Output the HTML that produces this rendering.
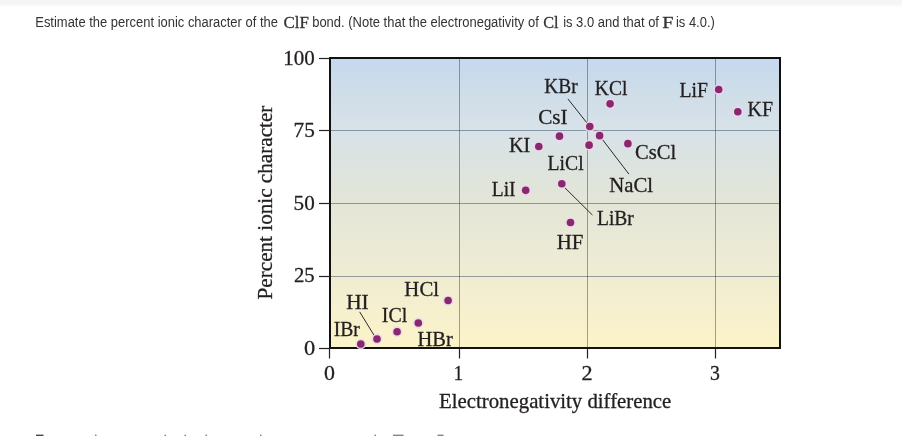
<!DOCTYPE html>
<html><head><meta charset="utf-8"><style>
html,body{margin:0;padding:0;background:#fff;width:902px;height:436px;overflow:hidden}
svg{position:absolute;left:0;top:0;will-change:transform}
</style></head><body>
<svg width="902" height="436" viewBox="0 0 902 436">
<defs><filter id="bl" x="-50%" y="-50%" width="200%" height="200%"><feGaussianBlur stdDeviation="0.5"/></filter><linearGradient id="g" x1="0" y1="0" x2="0" y2="1"><stop offset="0" stop-color="#c5d8ee"/><stop offset="0.14" stop-color="#d0dee8"/><stop offset="0.25" stop-color="#d8e2e8"/><stop offset="0.33" stop-color="#dbe3e2"/><stop offset="0.5" stop-color="#e3e5d6"/><stop offset="0.62" stop-color="#e9e9d6"/><stop offset="0.84" stop-color="#f4efcf"/><stop offset="1" stop-color="#fcf3c8"/></linearGradient></defs>
<rect x="0" y="0" width="902" height="4" fill="#f5f5f5"/><rect x="0" y="4" width="902" height="1" fill="#f7f7f7"/><rect x="0" y="5" width="902" height="1" fill="#fafafa"/><rect x="0" y="6" width="902" height="1" fill="#fdfdfd"/>
<rect x="330" y="58" width="450" height="290" fill="url(#g)"/>
<line x1="459.5" y1="58" x2="459.5" y2="348" stroke="#142a4c" stroke-width="1" stroke-opacity="0.42"/>
<line x1="587.5" y1="58" x2="587.5" y2="348" stroke="#142a4c" stroke-width="1" stroke-opacity="0.42"/>
<line x1="715.5" y1="58" x2="715.5" y2="348" stroke="#142a4c" stroke-width="1" stroke-opacity="0.42"/>
<line x1="330" y1="130.5" x2="780" y2="130.5" stroke="#142a4c" stroke-width="1" stroke-opacity="0.42"/>
<line x1="330" y1="203.5" x2="780" y2="203.5" stroke="#142a4c" stroke-width="1" stroke-opacity="0.42"/>
<line x1="330" y1="276.5" x2="780" y2="276.5" stroke="#142a4c" stroke-width="1" stroke-opacity="0.42"/>
<rect x="330" y="58" width="450" height="290" fill="none" stroke="#111" stroke-width="2"/>
<line x1="319" y1="58.5" x2="330" y2="58.5" stroke="#222" stroke-width="1.2"/>
<line x1="319" y1="130.5" x2="330" y2="130.5" stroke="#222" stroke-width="1.2"/>
<line x1="319" y1="203.5" x2="330" y2="203.5" stroke="#222" stroke-width="1.2"/>
<line x1="319" y1="276.5" x2="330" y2="276.5" stroke="#222" stroke-width="1.2"/>
<line x1="319" y1="348.5" x2="330" y2="348.5" stroke="#222" stroke-width="1.2"/>
<line x1="329.5" y1="348" x2="329.5" y2="358.5" stroke="#222" stroke-width="1.2"/>
<line x1="459.5" y1="348" x2="459.5" y2="358.5" stroke="#222" stroke-width="1.2"/>
<line x1="587.5" y1="348" x2="587.5" y2="358.5" stroke="#222" stroke-width="1.2"/>
<line x1="715.5" y1="348" x2="715.5" y2="358.5" stroke="#222" stroke-width="1.2"/>
<line x1="567.9" y1="98.9" x2="589.2" y2="125.8" stroke="#2a2a2a" stroke-width="1.0"/>
<line x1="601.5" y1="138.3" x2="628.9" y2="174.1" stroke="#2a2a2a" stroke-width="1.0"/>
<line x1="563.6" y1="186.5" x2="592.4" y2="215" stroke="#2a2a2a" stroke-width="1.0"/>
<line x1="359.7" y1="311.9" x2="375.3" y2="337.3" stroke="#2a2a2a" stroke-width="1.0"/>
<circle cx="589.8" cy="126.55" r="5.4" fill="#f0d6ec" opacity="0.9" filter="url(#bl)"/>
<circle cx="589.8" cy="126.55" r="3.8" fill="#88296f"/>
<circle cx="610.0999999999999" cy="103.85" r="5.4" fill="#f0d6ec" opacity="0.9" filter="url(#bl)"/>
<circle cx="610.0999999999999" cy="103.85" r="3.8" fill="#88296f"/>
<circle cx="718.6999999999999" cy="89.55" r="5.4" fill="#f0d6ec" opacity="0.9" filter="url(#bl)"/>
<circle cx="718.6999999999999" cy="89.55" r="3.8" fill="#88296f"/>
<circle cx="737.8" cy="111.75" r="5.4" fill="#f0d6ec" opacity="0.9" filter="url(#bl)"/>
<circle cx="737.8" cy="111.75" r="3.8" fill="#88296f"/>
<circle cx="559.5" cy="136.15" r="5.4" fill="#f0d6ec" opacity="0.9" filter="url(#bl)"/>
<circle cx="559.5" cy="136.15" r="3.8" fill="#88296f"/>
<circle cx="538.8" cy="146.54999999999998" r="5.4" fill="#f0d6ec" opacity="0.9" filter="url(#bl)"/>
<circle cx="538.8" cy="146.54999999999998" r="3.8" fill="#88296f"/>
<circle cx="599.5999999999999" cy="135.65" r="5.4" fill="#f0d6ec" opacity="0.9" filter="url(#bl)"/>
<circle cx="599.5999999999999" cy="135.65" r="3.8" fill="#88296f"/>
<circle cx="589.0999999999999" cy="145.15" r="5.4" fill="#f0d6ec" opacity="0.9" filter="url(#bl)"/>
<circle cx="589.0999999999999" cy="145.15" r="3.8" fill="#88296f"/>
<circle cx="627.9" cy="143.65" r="5.4" fill="#f0d6ec" opacity="0.9" filter="url(#bl)"/>
<circle cx="627.9" cy="143.65" r="3.8" fill="#88296f"/>
<circle cx="525.6999999999999" cy="190.35" r="5.4" fill="#f0d6ec" opacity="0.9" filter="url(#bl)"/>
<circle cx="525.6999999999999" cy="190.35" r="3.8" fill="#88296f"/>
<circle cx="561.8" cy="183.75" r="5.4" fill="#f0d6ec" opacity="0.9" filter="url(#bl)"/>
<circle cx="561.8" cy="183.75" r="3.8" fill="#88296f"/>
<circle cx="570.5" cy="222.54999999999998" r="5.4" fill="#f0d6ec" opacity="0.9" filter="url(#bl)"/>
<circle cx="570.5" cy="222.54999999999998" r="3.8" fill="#88296f"/>
<circle cx="448.1" cy="300.55" r="5.4" fill="#f0d6ec" opacity="0.9" filter="url(#bl)"/>
<circle cx="448.1" cy="300.55" r="3.8" fill="#88296f"/>
<circle cx="418.3" cy="322.95000000000005" r="5.4" fill="#f0d6ec" opacity="0.9" filter="url(#bl)"/>
<circle cx="418.3" cy="322.95000000000005" r="3.8" fill="#88296f"/>
<circle cx="397.1" cy="331.75" r="5.4" fill="#f0d6ec" opacity="0.9" filter="url(#bl)"/>
<circle cx="397.1" cy="331.75" r="3.8" fill="#88296f"/>
<circle cx="377.0" cy="338.95000000000005" r="5.4" fill="#f0d6ec" opacity="0.9" filter="url(#bl)"/>
<circle cx="377.0" cy="338.95000000000005" r="3.8" fill="#88296f"/>
<circle cx="360.8" cy="344.05" r="5.4" fill="#f0d6ec" opacity="0.9" filter="url(#bl)"/>
<circle cx="360.8" cy="344.05" r="3.8" fill="#88296f"/>
<g font-family="Liberation Serif" font-size="20.2" fill="#231f20" stroke="#231f20" stroke-width="0.3">
<text x="544.32" y="92.70" textLength="33.32" lengthAdjust="spacingAndGlyphs" >KBr</text>
<text x="594.81" y="94.80" textLength="32.52" lengthAdjust="spacingAndGlyphs" >KCl</text>
<text x="538.15" y="123.70" textLength="29.47" lengthAdjust="spacingAndGlyphs" >CsI</text>
<text x="508.99" y="151.70" textLength="21.32" lengthAdjust="spacingAndGlyphs" >KI</text>
<text x="547.61" y="169.60" textLength="36.05" lengthAdjust="spacingAndGlyphs" >LiCl</text>
<text x="634.98" y="158.90" textLength="41.15" lengthAdjust="spacingAndGlyphs" >CsCl</text>
<text x="609.18" y="191.50" textLength="43.85" lengthAdjust="spacingAndGlyphs" >NaCl</text>
<text x="491.82" y="195.80" textLength="23.80" lengthAdjust="spacingAndGlyphs" >LiI</text>
<text x="597.01" y="224.70" textLength="36.86" lengthAdjust="spacingAndGlyphs" >LiBr</text>
<text x="556.77" y="249.00" textLength="26.73" lengthAdjust="spacingAndGlyphs" >HF</text>
<text x="679.61" y="96.70" textLength="28.37" lengthAdjust="spacingAndGlyphs" >LiF</text>
<text x="747.60" y="115.80" textLength="25.57" lengthAdjust="spacingAndGlyphs" >KF</text>
<text x="404.38" y="295.90" textLength="34.68" lengthAdjust="spacingAndGlyphs" >HCl</text>
<text x="346.16" y="308.60" textLength="22.49" lengthAdjust="spacingAndGlyphs" >HI</text>
<text x="381.80" y="321.70" textLength="25.45" lengthAdjust="spacingAndGlyphs" >ICl</text>
<text x="333.71" y="335.90" textLength="26.15" lengthAdjust="spacingAndGlyphs" >IBr</text>
<text x="417.59" y="345.70" textLength="35.26" lengthAdjust="spacingAndGlyphs" >HBr</text>
<text x="283.21" y="65.20" textLength="31.53" lengthAdjust="spacingAndGlyphs" >100</text>
<text x="293.52" y="136.70" textLength="21.23" lengthAdjust="spacingAndGlyphs" >75</text>
<text x="293.63" y="210.20" textLength="21.11" lengthAdjust="spacingAndGlyphs" >50</text>
<text x="293.97" y="281.70" textLength="20.77" lengthAdjust="spacingAndGlyphs" >25</text>
<text x="303.90" y="355.20" textLength="11.19" lengthAdjust="spacingAndGlyphs" >0</text>
<text x="323.92" y="379.90" textLength="10.95" lengthAdjust="spacingAndGlyphs" >0</text>
<text x="453.82" y="379.50" textLength="9.30" lengthAdjust="spacingAndGlyphs" >1</text>
<text x="581.40" y="379.90" textLength="11.12" lengthAdjust="spacingAndGlyphs" >2</text>
<text x="710.11" y="379.90" textLength="9.88" lengthAdjust="spacingAndGlyphs" >3</text>
<text x="439.08" y="407.70" textLength="232.26" lengthAdjust="spacingAndGlyphs" >Electronegativity difference</text>
</g>
<g transform="translate(272,298.8) rotate(-90)"><text x="-0.63" y="0" font-family="Liberation Serif" font-size="20.2" fill="#231f20" stroke="#231f20" stroke-width="0.3" textLength="193.76" lengthAdjust="spacingAndGlyphs">Percent ionic character</text></g>
<g font-family="Liberation Sans" font-size="14" fill="#333333">
<text x="35.26" y="26.80" textLength="242.65" lengthAdjust="spacingAndGlyphs" >Estimate the percent ionic character of the</text>
<text x="312.16" y="26.80" textLength="226.58" lengthAdjust="spacingAndGlyphs" >bond. (Note that the electronegativity of</text>
<text x="563.16" y="26.80" textLength="95.83" lengthAdjust="spacingAndGlyphs" >is 3.0 and that of</text>
<text x="675.96" y="26.80" textLength="38.83" lengthAdjust="spacingAndGlyphs" >is 4.0.)</text>
</g>
<g font-family="Liberation Serif" font-size="17.5" fill="#333333" stroke="#333333" stroke-width="0.3">
<text x="283.42" y="27.60" textLength="25.39" lengthAdjust="spacingAndGlyphs" >ClF</text>
<text x="543.15" y="27.60" textLength="15.37" lengthAdjust="spacingAndGlyphs" >Cl</text>
<text x="662.29" y="27.60" textLength="11.24" lengthAdjust="spacingAndGlyphs" >F</text>
</g>
<rect x="36" y="434.6" width="7.5" height="1.4" fill="#333" opacity="0.9"/>
<rect x="95" y="434.6" width="1.5" height="1.4" fill="#333" opacity="0.6"/>
<rect x="164.5" y="434.6" width="1.5" height="1.4" fill="#333" opacity="0.6"/>
<rect x="184.5" y="434.6" width="1.5" height="1.4" fill="#333" opacity="0.6"/>
<rect x="205.5" y="434.6" width="1.5" height="1.4" fill="#333" opacity="0.6"/>
<rect x="260" y="434.6" width="1.5" height="1.4" fill="#333" opacity="0.6"/>
<rect x="374.5" y="434.6" width="1.5" height="1.4" fill="#333" opacity="0.6"/>
<rect x="393" y="434.6" width="10.5" height="1.4" fill="#333" opacity="0.6"/>
<rect x="437.5" y="434.6" width="6.0" height="1.4" fill="#333" opacity="0.6"/>
</svg>
</body></html>
